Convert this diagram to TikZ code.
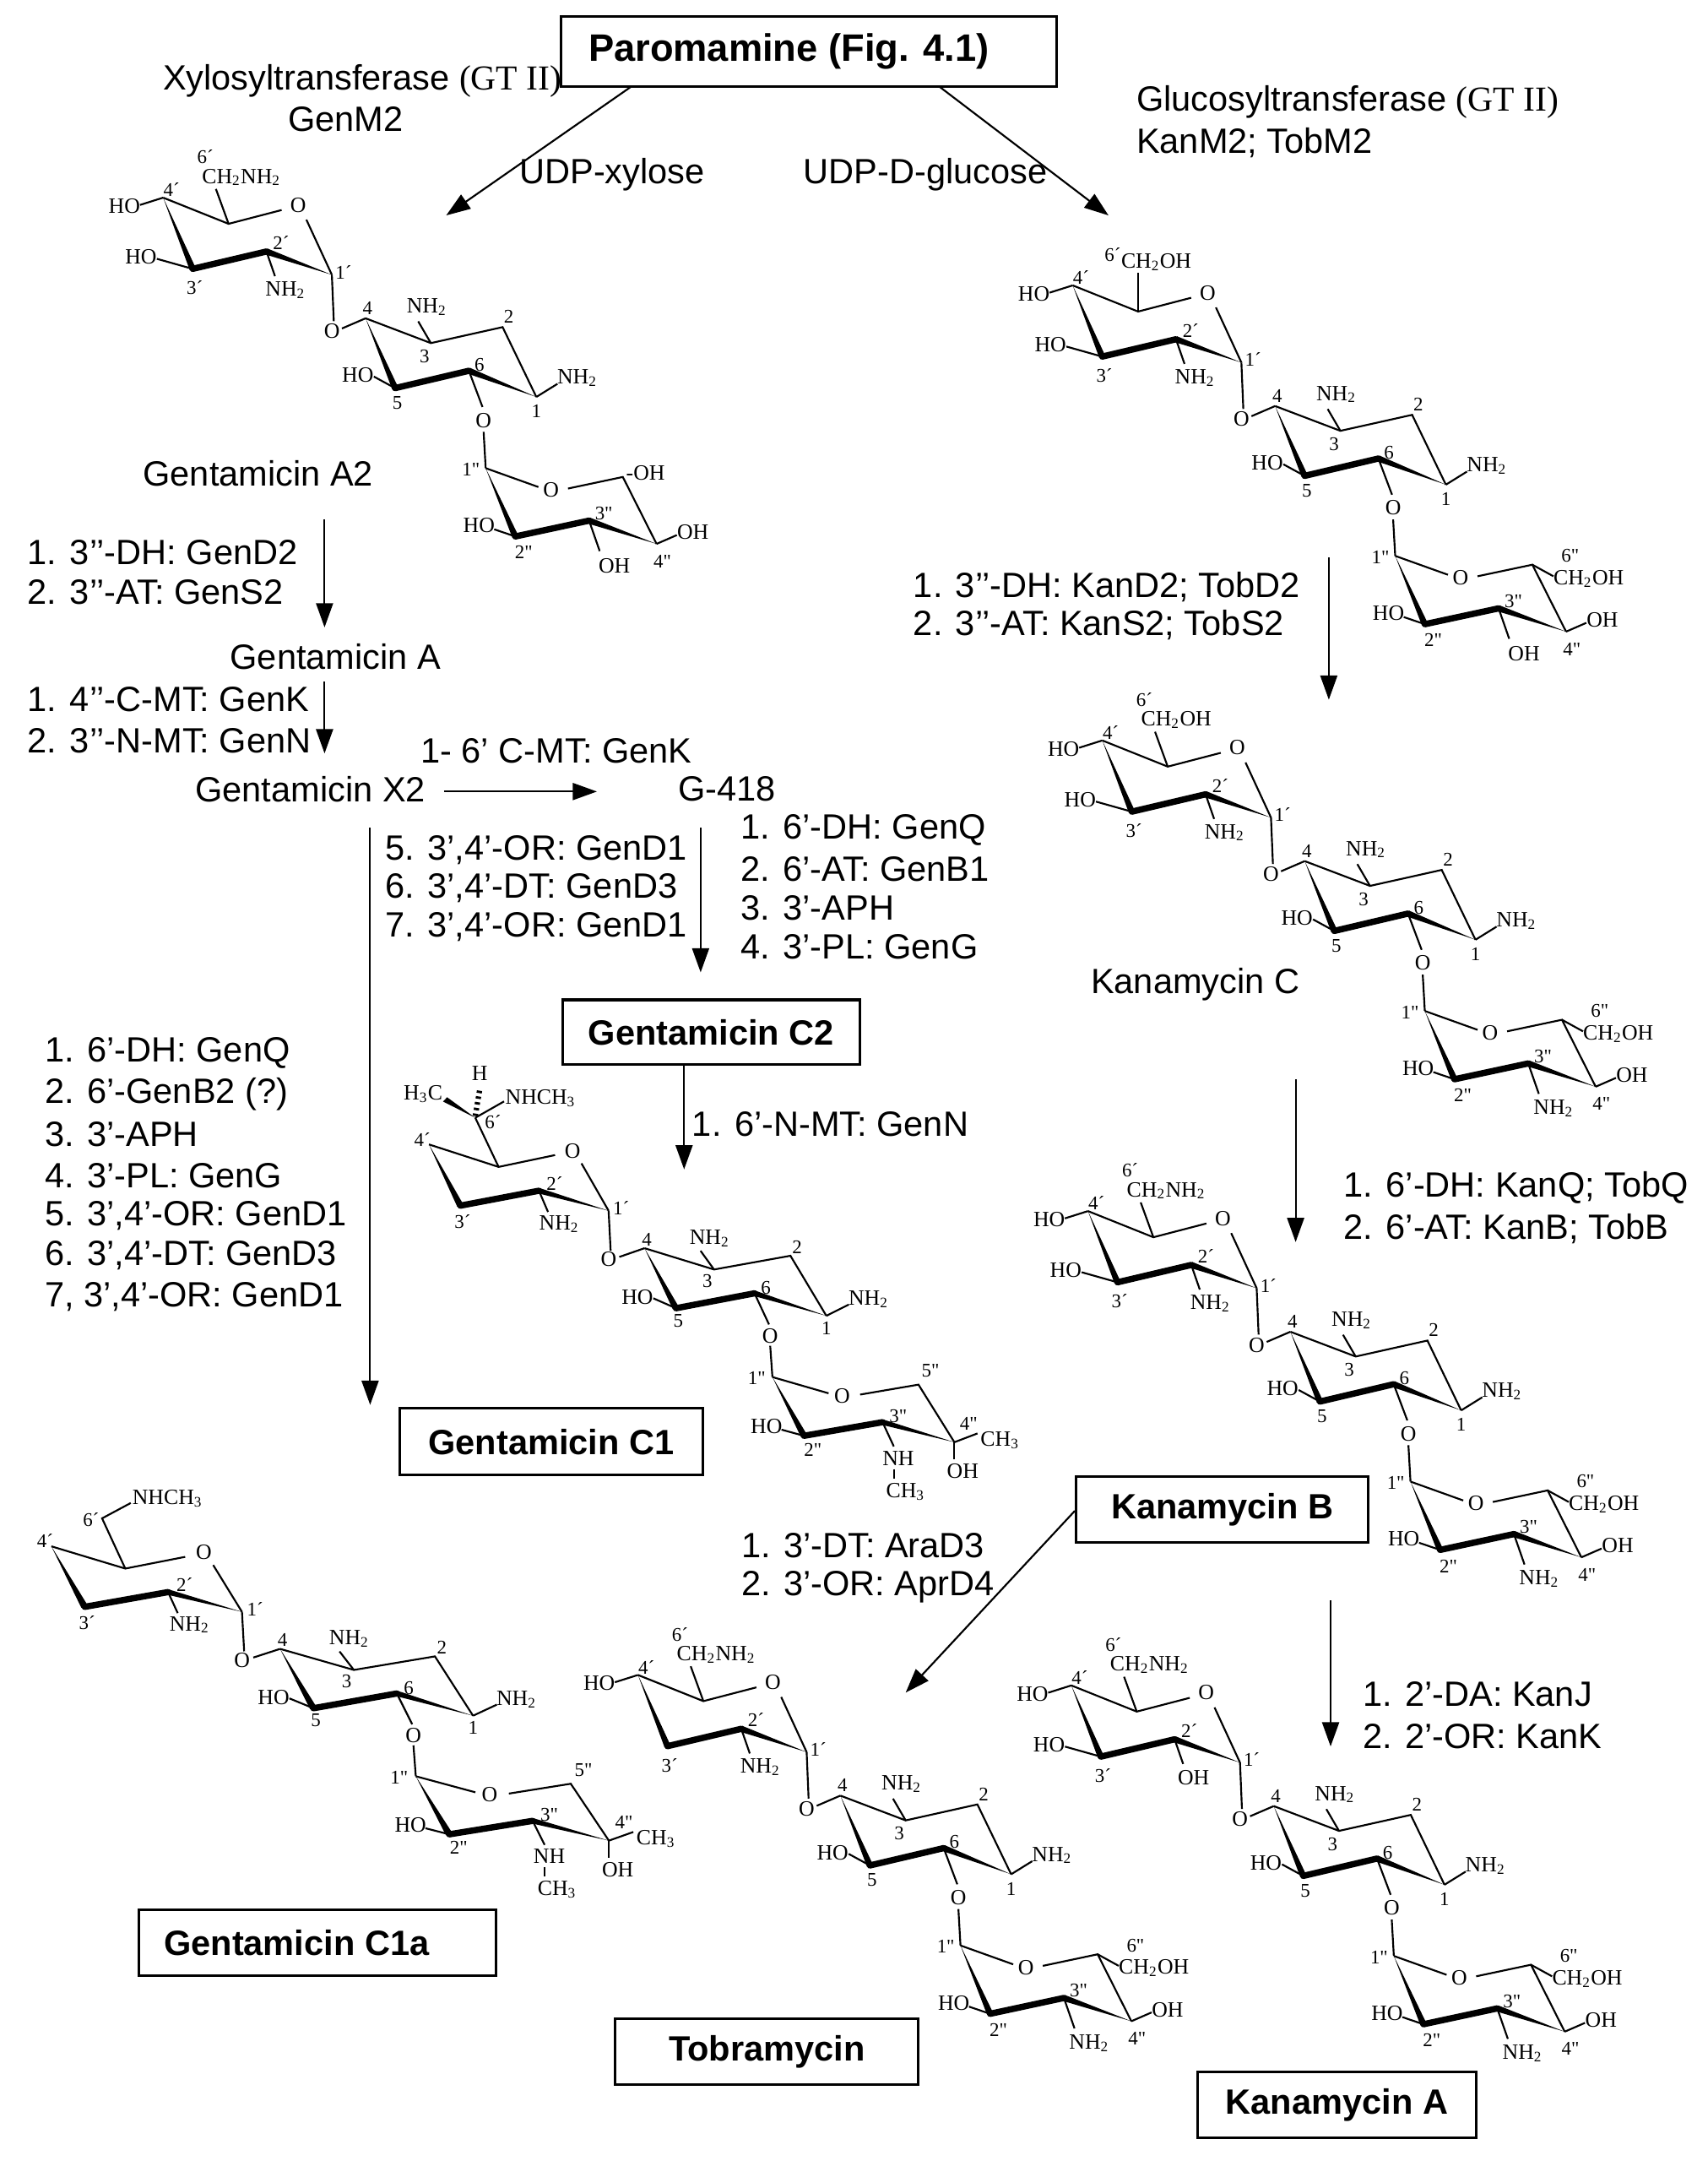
\documentclass[tikz,border=0pt]{standalone}
\usepackage{fontspec}
\setmainfont{Liberation Serif}
\newfontfamily\chemf[Ligatures=TeXOff]{Liberation Serif}
\newfontfamily\lsans{Liberation Sans}
\usetikzlibrary{calc,arrows.meta}
\newcommand\sbs[1]{\textsubscript{#1}}
\newcommand\dpr{\char"22\relax}
\tikzset{
 bond/.style={line width=0.75pt},
 thk/.style={line width=2.6pt,line cap=round},
 chem/.style={font=\chemf\fontsize{9}{10}\selectfont,inner sep=0.5pt},
 num/.style={font=\chemf\fontsize{8}{9}\selectfont,inner sep=0.5pt},
 lab/.style={font=\lsans\fontsize{14.5}{16}\selectfont,inner sep=0pt},
 boxlab/.style={font=\lsans\bfseries\fontsize{14.5}{16}\selectfont},
 frame/.style={draw,line width=1.1pt},
 arr/.style={line width=0.75pt,-{Triangle[length=10pt,width=7pt]}},
}
\newcommand\wdg[2]{\fill (#1) -- ($(#2)!1.3pt!90:(#1)$) -- ($(#2)!1.3pt!-90:(#1)$) -- cycle;}
\newcommand\aglcore[2]{%
 \draw[bond] (0,0) -- (47.5,19) -- (86,9);
 \draw[bond] (104,16) -- (122.5,56);
 \node[chem] at (98,5.3) {O};
 \wdg{0,0}{21.4,51.7}
 \draw[thk] (21.4,51.7) -- (75,39.1);
 \wdg{122.5,56}{75,39.1}
 \node[num] at (#1) {4´};
 \node[num] at (23,65.5) {3´};
 \node[num] at (85.7,32.7) {2´};
 \node[num] at (131,54) {1´};
 \draw[bond] (122.5,56) -- (123.9,89.7);
 \node[chem] at (122.5,97.2) {O};
 \draw[bond] (129.8,95) -- (147,87.6);
 \draw[bond] (147,87.6) -- (194.4,105.6) -- (246.5,94) -- (271,144.7);
 \wdg{147,87.6}{168.4,138.3}
 \draw[thk] (168.4,138.3) -- (222,125.7);
 \wdg{271,144.7}{222,125.7}
 \draw[bond] (194.4,105.6) -- (185.2,89.8);
 \node[chem] at (191.4,79.2) {NH\sbs{2}};
 \draw[bond] (168.4,138.3) -- (153,129.9);
 \node[chem,anchor=east] at (154,129) {HO};
 \draw[bond] (271,144.7) -- (286.3,135.2);
 \node[chem,anchor=west] at (285,131) {NH\sbs{2}};
 \node[num] at (148.5,80.3) {4};
 \node[num] at (189.8,115.1) {3};
 \node[num] at (251,86.6) {2};
 \node[num] at (170,148.9) {5};
 \node[num] at (229.7,121.4) {6};
 \node[num] at (271,155.2) {1};
 \draw[bond] (222,125.7) -- (231.9,152);
 \node[chem] at (232.7,161.6) {O};
 \draw[bond] (232.7,170) -- (234.2,196.4);
 \draw[bond] (234.2,196.4) -- (272.5,210.1);
 \node[chem] at (281.7,212.3) {O};
 \draw[bond] (294,211.2) -- (333.8,202.8) -- (358.3,251.4);
 \wdg{234.2,196.4}{255.7,246}
 \draw[thk] (255.7,246) -- (309.3,234.5);
 \wdg{358.3,251.4}{309.3,234.5}
 \draw[bond] (255.7,246) -- (240.4,240.8);
 \node[chem,anchor=east] at (242,238) {HO};
 \node[num] at (223.5,197.4) {1\dpr};
 \node[num] at (261.8,257.7) {2\dpr};
 \node[num] at (320,229.2) {3\dpr};
 \node[num] at (#2) {4\dpr};
}
\newcommand\hofour{\draw[bond] (0,0) -- (-16.8,5.3); \node[chem,anchor=east] at (-15.5,6) {HO};}
\newcommand\hothree{\draw[bond] (21.4,51.7) -- (-4.6,44.4); \node[chem,anchor=east] at (-3.5,43) {HO};}
\newcommand\subtwo[1]{\draw[bond] (75,39.1) -- (81.2,57); \node[chem] at (88.8,67) {#1};}
\newcommand\csix[1]{\draw[bond] (47.5,19) -- (38.3,-6.3); \node[chem,anchor=west] at (27,-14.8) {#1}; \node[num] at (30.6,-29.6) {6´};}
\newcommand\glcsix{\draw[bond] (333.8,202.8) -- (349.1,211.2); \node[chem,anchor=west] at (348,213) {CH\sbs{2}OH}; \node[num] at (361.3,196.4) {6\dpr};}
\newcommand\subthree[1]{\draw[bond] (309.3,234.5) -- (317,256.6); \node[chem] at (327.7,267.2) {#1};}
\newcommand\ohfour{\draw[bond] (358.3,251.4) -- (373,245); \node[chem,anchor=west] at (372,243) {OH};}
\newcommand\gentbot{%
 \node[num] at (342,191) {5\dpr};
 \draw[bond] (358.3,251.4) -- (374,244);
 \node[chem,anchor=west] at (375,250) {CH\sbs{3}};
 \draw[bond] (358.3,251.4) -- (358.3,266);
 \node[chem] at (364,276) {OH};
 \draw[bond] (309.3,234.5) -- (317,255);
 \node[chem] at (320,265) {NH};
 \draw[bond] (317,274) -- (317,282);
 \node[chem] at (325,293) {CH\sbs{3}};
}
\begin{document}
\begin{tikzpicture}[x=0.2mm,y=-0.2mm]
\useasboundingbox (0,0) rectangle (1240.3,1569);
% ---- top
\node[frame,minimum width=72mm,minimum height=10.2mm] (par) at (587.4,37.2) {};
\node[anchor=west,font=\lsans\bfseries\fontsize{15.8}{17}\selectfont,inner sep=0pt] (parl) at (427,37.2) {Paromamine (Fig. 4.1)};
\coordinate (pl) at (458.8,62.6);
\coordinate (pr) at (681.8,62.6);
\coordinate (tl) at (324,156.4);
\coordinate (tr) at (805,156.4);
\draw[arr] (pl) -- (tl);
\draw[arr] (pr) -- (tr);
\node[lab,anchor=west] (xyl) at (118,58.7) {Xylosyltransferase {\rmfamily (GT II)}};
\node[lab] (genm2) at (251,86.8) {GenM2};
\node[lab] (udpx) at (444.5,127) {UDP-xylose};
\node[lab] (udpg) at (672,127) {UDP-D-glucose};
\node[lab,anchor=west] (glc) at (825,74.3) {Glucosyltransferase {\rmfamily (GT II)}};
\node[lab,anchor=west] (kanm2) at (825,103.6) {KanM2; TobM2};
% ---- gentamicin branch
\node[lab] (gA2) at (187.5,344) {Gentamicin A2};
\coordinate (a1s) at (235.7,377); \coordinate (a1e) at (235.7,455.5);
\draw[arr] (a1s) -- (a1e);
\node[lab,anchor=west] at (19.8,400.8) {1. 3’’-DH: GenD2};
\node[lab,anchor=west] at (19.8,430) {2. 3’’-AT: GenS2};
\node[lab] (gA) at (243.6,477) {Gentamicin A};
\coordinate (a2s) at (235.7,495); \coordinate (a2e) at (235.7,547);
\draw[arr] (a2s) -- (a2e);
\node[lab,anchor=west] at (19.8,508) {1. 4’’-C-MT: GenK};
\node[lab,anchor=west] at (19.8,537.6) {2. 3’’-N-MT: GenN};
\node[lab] (gX2) at (225.4,572.8) {Gentamicin X2};
\coordinate (a3s) at (322.6,574.7); \coordinate (a3e) at (433.5,574.7);
\draw[arr] (a3s) -- (a3e);
\node[lab] at (404,545) {1- 6’ C-MT: GenK};
\node[lab] (g418) at (528,572.8) {G-418};
\coordinate (a4s) at (268.8,601); \coordinate (a4e) at (268.8,1020);
\draw[arr] (a4s) -- (a4e);
\node[lab,anchor=west] at (279.6,616.9) {5. 3’,4’-OR: GenD1};
\node[lab,anchor=west] at (279.6,645) {6. 3’,4’-DT: GenD3};
\node[lab,anchor=west] at (279.6,673.2) {7. 3’,4’-OR: GenD1};
\coordinate (a5s) at (508.8,601); \coordinate (a5e) at (508.8,706);
\draw[arr] (a5s) -- (a5e);
\node[lab,anchor=west] at (537.6,602.8) {1. 6’-DH: GenQ};
\node[lab,anchor=west] at (537.6,631) {2. 6’-AT: GenB1};
\node[lab,anchor=west] at (537.6,659.1) {3. 3’-APH};
\node[lab,anchor=west] at (537.6,687.3) {4. 3’-PL: GenG};
\node[frame,minimum width=43.2mm,minimum height=9.4mm] (gC2) at (516.5,749.4) {};
\node[boxlab] at (516.5,749.4) {Gentamicin C2};
\coordinate (a6s) at (496.8,772); \coordinate (a6e) at (496.8,849);
\draw[arr] (a6s) -- (a6e);
\node[lab,anchor=west] at (502.4,816.4) {1. 6’-N-MT: GenN};
\node[lab,anchor=west] at (32.3,764.7) {1. 6’-DH: GenQ};
\node[lab,anchor=west] at (32.3,794.6) {2. 6’-GenB2 (?)};
\node[lab,anchor=west] at (32.3,823.8) {3. 3’-APH};
\node[lab,anchor=west] at (32.3,853.4) {4. 3’-PL: GenG};
\node[lab,anchor=west] at (32.3,882.6) {5. 3’,4’-OR: GenD1};
\node[lab,anchor=west] at (32.3,911.8) {6. 3’,4’-DT: GenD3};
\node[lab,anchor=west] at (32.3,941.3) {7, 3’,4’-OR: GenD1};
\node[frame,minimum width=44mm,minimum height=9.7mm] (gC1) at (400.4,1046.8) {};
\node[boxlab] at (400.4,1046.8) {Gentamicin C1};
\node[frame,minimum width=51.8mm,minimum height=9.6mm] (gC1a) at (230.6,1410.6) {};
\node[boxlab,anchor=west,inner sep=0pt] at (118.7,1410.6) {Gentamicin C1a};
% ---- kanamycin branch
\coordinate (k1s) at (965,404.7); \coordinate (k1e) at (965,508);
\draw[arr] (k1s) -- (k1e);
\node[lab,anchor=west] at (663,426) {1. 3’’-DH: KanD2; TobD2};
\node[lab,anchor=west] at (663,453.6) {2. 3’’-AT: KanS2; TobS2};
\node[lab] (kC) at (868,715) {Kanamycin C};
\coordinate (k2s) at (940.9,783.6); \coordinate (k2e) at (940.9,901.8);
\draw[arr] (k2s) -- (k2e);
\node[lab,anchor=west] at (975.6,862.4) {1. 6’-DH: KanQ; TobQ};
\node[lab,anchor=west] at (975.6,892) {2. 6’-AT: KanB; TobB};
\node[frame,minimum width=42.4mm,minimum height=9.6mm] (kB) at (887.6,1096) {};
\node[boxlab] at (887.6,1096) {Kanamycin B};
\coordinate (k3s) at (780.5,1097); \coordinate (k3e) at (657.7,1228.9);
\draw[arr] (k3s) -- (k3e);
\node[lab,anchor=west] at (538,1122) {1. 3’-DT: AraD3};
\node[lab,anchor=west] at (538,1152) {2. 3’-OR: AprD4};
\coordinate (k4s) at (966.3,1162); \coordinate (k4e) at (966.3,1268);
\draw[arr] (k4s) -- (k4e);
\node[lab,anchor=west] at (989.3,1230) {1. 2’-DA: KanJ};
\node[lab,anchor=west] at (989.3,1260.6) {2. 2’-OR: KanK};
\node[frame,minimum width=44mm,minimum height=9.6mm] (tob) at (556.9,1489.5) {};
\node[boxlab] at (556.9,1489.5) {Tobramycin};
\node[frame,minimum width=40.4mm,minimum height=9.6mm] (kA) at (970.9,1528.2) {};
\node[boxlab] at (970.9,1528.2) {Kanamycin A};
% ---- structures
\begin{scope}[shift={(118.5,143.5)}]
 \aglcore{6.1,-5.7}{362.5,264}
 \hofour \hothree \subtwo{NH\sbs{2}} \csix{CH\sbs{2}NH\sbs{2}}
 \node[chem,anchor=west] at (335,200) {-OH};
 \subthree{OH} \ohfour
\end{scope}
\begin{scope}[shift={(779,207.2)}]
 \aglcore{6.1,-5.7}{362.5,264}
 \hofour \hothree \subtwo{NH\sbs{2}}
 \draw[bond] (47.5,19) -- (47.5,-9);
 \node[chem,anchor=west] at (34,-17) {CH\sbs{2}OH};
 \node[num] at (29,-22) {6´};
 \glcsix \subthree{OH} \ohfour
\end{scope}
\begin{scope}[shift={(800.5,537.6)}]
 \aglcore{6.1,-5.7}{362.5,264}
 \hofour \hothree \subtwo{NH\sbs{2}} \csix{CH\sbs{2}OH}
 \glcsix \subthree{NH\sbs{2}} \ohfour
\end{scope}
\begin{scope}[shift={(790.1,879.3)}]
 \aglcore{6.1,-5.7}{362.5,264}
 \hofour \hothree \subtwo{NH\sbs{2}} \csix{CH\sbs{2}NH\sbs{2}}
 \glcsix \subthree{NH\sbs{2}} \ohfour
\end{scope}
\begin{scope}[shift={(463.3,1216.1)}]
 \aglcore{6.1,-5.7}{362.5,264}
 \hofour \subtwo{NH\sbs{2}} \csix{CH\sbs{2}NH\sbs{2}}
 \glcsix \subthree{NH\sbs{2}} \ohfour
\end{scope}
\begin{scope}[shift={(778,1223.7)}]
 \aglcore{6.1,-5.7}{362.5,264}
 \hofour \hothree \subtwo{OH} \csix{CH\sbs{2}NH\sbs{2}}
 \glcsix \subthree{NH\sbs{2}} \ohfour
\end{scope}
\begin{scope}[shift={(311.5,830.9)},xscale=1.065,yscale=0.86]
 \aglcore{-4.5,-4}{368,236}
 \subtwo{NH\sbs{2}}
 \draw[bond] (47.5,19) -- (31.6,-22.5);
 \wdg{31.6,-22.5}{11,-38}
 \node[chem] at (-4,-42.5) {H\sbs{3}C};
 \draw[line width=2.2pt,dash pattern=on 1pt off 1.4pt] (31.6,-24) -- (34.6,-46.3);
 \node[chem] at (34.6,-60) {H};
 \draw[bond] (31.6,-22.5) -- (51.2,-36.3);
 \node[chem,anchor=west] at (51,-39) {NHCH\sbs{3}};
 \node[num] at (43.7,-18.7) {6´};
 \gentbot
\end{scope}
\begin{scope}[shift={(37.3,1122.7)},xscale=1.13,yscale=0.85]
 \aglcore{-4,-5}{368,236}
 \subtwo{NH\sbs{2}}
 \draw[bond] (47.5,19) -- (32.6,-23.9) -- (51,-37);
 \node[chem,anchor=west] at (51,-41) {NHCH\sbs{3}};
 \node[num] at (25.5,-22.7) {6´};
 \gentbot
\end{scope}
\end{tikzpicture}
\end{document}
